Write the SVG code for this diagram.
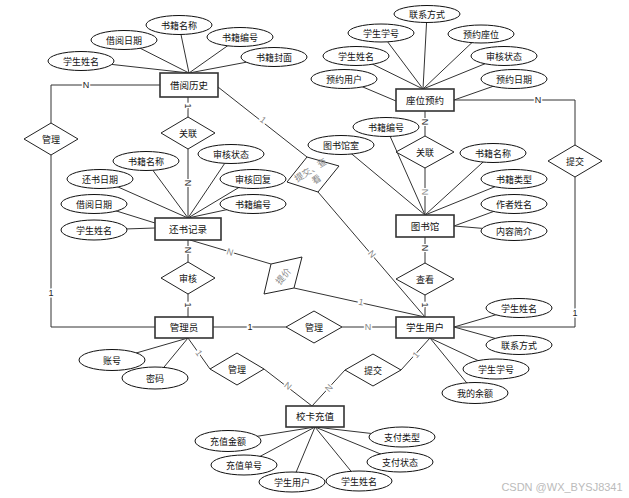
<svg xmlns="http://www.w3.org/2000/svg" width="629" height="498" viewBox="0 0 629 498">
<style>
.ln{stroke:#333;stroke-width:1;fill:none}
.ent rect{fill:#fff;stroke:#333;stroke-width:1.6}
.att ellipse{fill:#fff;stroke:#111;stroke-width:1}
.rel polygon{fill:#fff;stroke:#222;stroke-width:1}
text{font-family:"Noto Sans CJK SC","Noto Sans",sans-serif;font-size:9px;fill:#111;text-anchor:middle;dominant-baseline:central}
.ent text{font-size:9.5px}
.lb{font-family:"Liberation Sans",sans-serif;font-size:9px;stroke:#fff;stroke-width:3;paint-order:stroke;fill:#222}
.lb.gy{fill:#888}
.gt{fill:#888}
</style>
<rect width="629" height="498" fill="#fff"/>
<g id="connectors">
<line class="ln" x1="81" y1="61" x2="189" y2="73"/>
<line class="ln" x1="124" y1="40" x2="189" y2="73"/>
<line class="ln" x1="179" y1="25" x2="189" y2="73"/>
<line class="ln" x1="240" y1="37" x2="189" y2="73"/>
<line class="ln" x1="274" y1="57" x2="189" y2="73"/>
<line class="ln" x1="427" y1="14" x2="423" y2="89"/>
<line class="ln" x1="381" y1="33" x2="423" y2="89"/>
<line class="ln" x1="481" y1="34" x2="423" y2="89"/>
<line class="ln" x1="356" y1="56" x2="423" y2="89"/>
<line class="ln" x1="504" y1="56" x2="423" y2="89"/>
<line class="ln" x1="344" y1="79" x2="396" y2="101"/>
<line class="ln" x1="514" y1="79" x2="454" y2="100"/>
<line class="ln" x1="341" y1="145" x2="425" y2="215"/>
<line class="ln" x1="386" y1="127" x2="425" y2="215"/>
<line class="ln" x1="493" y1="153" x2="425" y2="215"/>
<line class="ln" x1="514" y1="179" x2="425" y2="215"/>
<line class="ln" x1="514" y1="204" x2="454" y2="226"/>
<line class="ln" x1="514" y1="231" x2="454" y2="226"/>
<line class="ln" x1="146" y1="161" x2="188" y2="218"/>
<line class="ln" x1="231" y1="154" x2="188" y2="218"/>
<line class="ln" x1="100" y1="179" x2="188" y2="218"/>
<line class="ln" x1="253" y1="179" x2="188" y2="218"/>
<line class="ln" x1="94" y1="204" x2="155" y2="223"/>
<line class="ln" x1="253" y1="204" x2="188" y2="218"/>
<line class="ln" x1="94" y1="230" x2="155" y2="228"/>
<line class="ln" x1="112" y1="360" x2="188" y2="338"/>
<line class="ln" x1="155" y1="378" x2="188" y2="338"/>
<line class="ln" x1="519" y1="308" x2="454" y2="327"/>
<line class="ln" x1="519" y1="345" x2="454" y2="327"/>
<line class="ln" x1="496" y1="369" x2="430" y2="338"/>
<line class="ln" x1="475" y1="393" x2="430" y2="338"/>
<line class="ln" x1="228" y1="441" x2="315" y2="427"/>
<line class="ln" x1="244" y1="465" x2="315" y2="427"/>
<line class="ln" x1="292" y1="482" x2="315" y2="427"/>
<line class="ln" x1="359" y1="481" x2="315" y2="427"/>
<line class="ln" x1="402" y1="437" x2="315" y2="427"/>
<line class="ln" x1="400" y1="462" x2="315" y2="427"/>
<polyline class="ln" points="160,85 51,85 51,123"/>
<polyline class="ln" points="51,155 51,327 155,327"/>
<line class="ln" x1="188" y1="97" x2="188" y2="117"/>
<line class="ln" x1="188" y1="149" x2="188" y2="218"/>
<line class="ln" x1="188" y1="240" x2="188" y2="262"/>
<line class="ln" x1="188" y1="294" x2="188" y2="317"/>
<line class="ln" x1="213" y1="327" x2="286" y2="327"/>
<line class="ln" x1="342" y1="327" x2="396" y2="327"/>
<line class="ln" x1="425" y1="111" x2="425" y2="136"/>
<line class="ln" x1="425" y1="168" x2="425" y2="215"/>
<line class="ln" x1="425" y1="237" x2="425" y2="263"/>
<line class="ln" x1="425" y1="295" x2="425" y2="317"/>
<polyline class="ln" points="454,100 575,100 575,145"/>
<polyline class="ln" points="575,177 575,327 454,327"/>
<line class="ln" x1="218" y1="87" x2="307" y2="157"/>
<line class="ln" x1="318" y1="192" x2="425" y2="317"/>
<line class="ln" x1="190" y1="240" x2="271" y2="264"/>
<line class="ln" x1="294" y1="288" x2="425" y2="317"/>
<line class="ln" x1="188" y1="338" x2="210" y2="369"/>
<line class="ln" x1="264" y1="369" x2="312" y2="406"/>
<line class="ln" x1="430" y1="338" x2="401" y2="370"/>
<line class="ln" x1="345" y1="370" x2="312" y2="406"/>
<text class="lb" x="86" y="85">N</text>
<text class="lb" x="51" y="293">1</text>
<text class="lb" transform="translate(188,106) rotate(90)">1</text>
<text class="lb" transform="translate(188,183) rotate(90)">N</text>
<text class="lb" transform="translate(188,250) rotate(90)">N</text>
<text class="lb" transform="translate(188,305) rotate(90)">1</text>
<text class="lb" x="250" y="327">1</text>
<text class="lb gy" x="368" y="327">N</text>
<text class="lb" transform="translate(425,122) rotate(90)">N</text>
<text class="lb gy" transform="translate(425,192) rotate(90)">N</text>
<text class="lb" transform="translate(425,248) rotate(90)">N</text>
<text class="lb" transform="translate(425,305) rotate(90)">1</text>
<text class="lb" x="538" y="100">N</text>
<text class="lb" x="575" y="313">1</text>
<text class="lb gy" transform="translate(263,120) rotate(38)">1</text>
<text class="lb gy" transform="translate(372,254) rotate(50)">N</text>
<text class="lb gy" transform="translate(230,252) rotate(17)">N</text>
<text class="lb gy" transform="translate(361,302) rotate(12)">1</text>
<text class="lb gy" transform="translate(199,353) rotate(55)">1</text>
<text class="lb gy" transform="translate(288,386) rotate(38)">N</text>
<text class="lb gy" transform="translate(329,388) rotate(-48)">N</text>
<text class="lb gy" transform="translate(416,355) rotate(-48)">1</text>
</g>
<g id="jieyuelishi" class="ent"><rect x="160" y="73" width="58" height="24"/><text x="189" y="85">借阅历史</text></g>
<g id="zuoweiyuyue" class="ent"><rect x="396" y="89" width="58" height="22"/><text x="425" y="100">座位预约</text></g>
<g id="huanshujilu" class="ent"><rect x="155" y="218" width="66" height="22"/><text x="188" y="229">还书记录</text></g>
<g id="tushuguan" class="ent"><rect x="396" y="215" width="58" height="22"/><text x="425" y="226">图书馆</text></g>
<g id="guanliyuan" class="ent"><rect x="155" y="317" width="58" height="21"/><text x="184" y="327">管理员</text></g>
<g id="xueshengyonghu" class="ent"><rect x="396" y="317" width="58" height="21"/><text x="425" y="327">学生用户</text></g>
<g id="xiaokachongzhi" class="ent"><rect x="286" y="406" width="58" height="21"/><text x="315" y="416">校卡充值</text></g>
<g id="rel-guanli-left" class="rel"><polygon points="24,139 51,123 78,139 51,155"/><text x="51" y="139">管理</text></g>
<g id="rel-guanlian-left" class="rel"><polygon points="161,133 188,117 215,133 188,149"/><text x="188" y="133">关联</text></g>
<g id="rel-shenhe" class="rel"><polygon points="161,278 188,262 215,278 188,294"/><text x="188" y="278">审核</text></g>
<g id="rel-guanli-mid" class="rel"><polygon points="286,327 314,311 342,327 314,343"/><text x="314" y="327">管理</text></g>
<g id="rel-guanlian-right" class="rel"><polygon points="396,152 425,136 454,152 425,168"/><text x="425" y="152">关联</text></g>
<g id="rel-chakan" class="rel"><polygon points="396,279 425,263 454,279 425,295"/><text x="425" y="279">查看</text></g>
<g id="rel-tijiao-right" class="rel"><polygon points="548,161 575,145 602,161 575,177"/><text x="575" y="161">提交</text></g>
<g id="rel-guanli-low" class="rel"><polygon points="210,369 237,353 264,369 237,385"/><text x="237" y="369">管理</text></g>
<g id="rel-tijiao-low" class="rel"><polygon points="345,370 373,354 401,370 373,386"/><text x="373" y="370">提交</text></g>
<g id="rel-tijiaochakan" class="rel"><polygon points="287,182 307,157 339,166 318,192"/><g transform="translate(313,174) rotate(-32)"><text class="gt" x="0" y="-5">提交、查</text><text class="gt" x="0" y="6">看</text></g></g>
<g id="rel-pingjia" class="rel"><polygon points="271,264 302,257 294,288 264,294"/><text class="gt" transform="translate(283,276) rotate(-50)">提价</text></g>
<g id="a-jy-xsxm" class="att"><ellipse cx="81" cy="61" rx="33" ry="9.5"/><text x="81" y="61">学生姓名</text></g>
<g id="a-jy-jyrq" class="att"><ellipse cx="124" cy="40" rx="33" ry="9.5"/><text x="124" y="40">借阅日期</text></g>
<g id="a-jy-sjmc" class="att"><ellipse cx="179" cy="25" rx="33" ry="9.5"/><text x="179" y="25">书籍名称</text></g>
<g id="a-jy-sjbh" class="att"><ellipse cx="240" cy="37" rx="33" ry="9.5"/><text x="240" y="37">书籍编号</text></g>
<g id="a-jy-sjfm" class="att"><ellipse cx="274" cy="57" rx="33" ry="9.5"/><text x="274" y="57">书籍封面</text></g>
<g id="a-zw-lxfs" class="att"><ellipse cx="427" cy="14" rx="33" ry="8.5"/><text x="427" y="14">联系方式</text></g>
<g id="a-zw-xsxh" class="att"><ellipse cx="381" cy="33" rx="33" ry="9"/><text x="381" y="33">学生学号</text></g>
<g id="a-zw-yyzw" class="att"><ellipse cx="481" cy="34" rx="33" ry="9"/><text x="481" y="34">预约座位</text></g>
<g id="a-zw-xsxm" class="att"><ellipse cx="356" cy="56" rx="33" ry="9.5"/><text x="356" y="56">学生姓名</text></g>
<g id="a-zw-shzt" class="att"><ellipse cx="504" cy="56" rx="33" ry="9.5"/><text x="504" y="56">审核状态</text></g>
<g id="a-zw-yyyh" class="att"><ellipse cx="344" cy="79" rx="33" ry="9.5"/><text x="344" y="79">预约用户</text></g>
<g id="a-zw-yyrq" class="att"><ellipse cx="514" cy="79" rx="33" ry="9.5"/><text x="514" y="79">预约日期</text></g>
<g id="a-ts-tsgs" class="att"><ellipse cx="341" cy="145" rx="33" ry="9.5"/><text x="341" y="145">图书馆室</text></g>
<g id="a-ts-sjbh" class="att"><ellipse cx="386" cy="127" rx="33" ry="9.5"/><text x="386" y="127">书籍编号</text></g>
<g id="a-ts-sjmc" class="att"><ellipse cx="493" cy="153" rx="33" ry="9.5"/><text x="493" y="153">书籍名称</text></g>
<g id="a-ts-sjlx" class="att"><ellipse cx="514" cy="179" rx="33" ry="9.5"/><text x="514" y="179">书籍类型</text></g>
<g id="a-ts-zzxm" class="att"><ellipse cx="514" cy="204" rx="33" ry="9.5"/><text x="514" y="204">作者姓名</text></g>
<g id="a-ts-nrjj" class="att"><ellipse cx="514" cy="231" rx="33" ry="9.5"/><text x="514" y="231">内容简介</text></g>
<g id="a-hs-sjmc" class="att"><ellipse cx="146" cy="161" rx="33" ry="9.5"/><text x="146" y="161">书籍名称</text></g>
<g id="a-hs-shzt" class="att"><ellipse cx="231" cy="154" rx="33" ry="9.5"/><text x="231" y="154">审核状态</text></g>
<g id="a-hs-hsrq" class="att"><ellipse cx="100" cy="179" rx="33" ry="9.5"/><text x="100" y="179">还书日期</text></g>
<g id="a-hs-shhf" class="att"><ellipse cx="253" cy="179" rx="33" ry="9.5"/><text x="253" y="179">审核回复</text></g>
<g id="a-hs-jyrq" class="att"><ellipse cx="94" cy="204" rx="33" ry="9.5"/><text x="94" y="204">借阅日期</text></g>
<g id="a-hs-sjbh" class="att"><ellipse cx="253" cy="204" rx="33" ry="9.5"/><text x="253" y="204">书籍编号</text></g>
<g id="a-hs-xsxm" class="att"><ellipse cx="94" cy="230" rx="33" ry="10"/><text x="94" y="230">学生姓名</text></g>
<g id="a-gl-zh" class="att"><ellipse cx="112" cy="360" rx="33" ry="10.5"/><text x="112" y="360">账号</text></g>
<g id="a-gl-mm" class="att"><ellipse cx="155" cy="378" rx="33" ry="11"/><text x="155" y="378">密码</text></g>
<g id="a-xs-xsxm" class="att"><ellipse cx="519" cy="308" rx="33" ry="9.5"/><text x="519" y="308">学生姓名</text></g>
<g id="a-xs-lxfs" class="att"><ellipse cx="519" cy="345" rx="33" ry="9.5"/><text x="519" y="345">联系方式</text></g>
<g id="a-xs-xsxh" class="att"><ellipse cx="496" cy="369" rx="33" ry="10"/><text x="496" y="369">学生学号</text></g>
<g id="a-xs-wdye" class="att"><ellipse cx="475" cy="393" rx="33" ry="10.5"/><text x="475" y="393">我的余额</text></g>
<g id="a-xk-czje" class="att"><ellipse cx="228" cy="441" rx="33" ry="10.5"/><text x="228" y="441">充值金额</text></g>
<g id="a-xk-czdh" class="att"><ellipse cx="244" cy="465" rx="33" ry="10"/><text x="244" y="465">充值单号</text></g>
<g id="a-xk-xsyh" class="att"><ellipse cx="292" cy="482" rx="33" ry="10"/><text x="292" y="482">学生用户</text></g>
<g id="a-xk-xsxm" class="att"><ellipse cx="359" cy="481" rx="33" ry="10"/><text x="359" y="481">学生姓名</text></g>
<g id="a-xk-zflx" class="att"><ellipse cx="402" cy="437" rx="33" ry="10"/><text x="402" y="437">支付类型</text></g>
<g id="a-xk-zfzt" class="att"><ellipse cx="400" cy="462" rx="33" ry="10"/><text x="400" y="462">支付状态</text></g>
<text x="562" y="487" style="font-family:'Liberation Sans',sans-serif;font-size:11px;fill:#bbb">CSDN @WX_BYSJ8341</text>
</svg>
